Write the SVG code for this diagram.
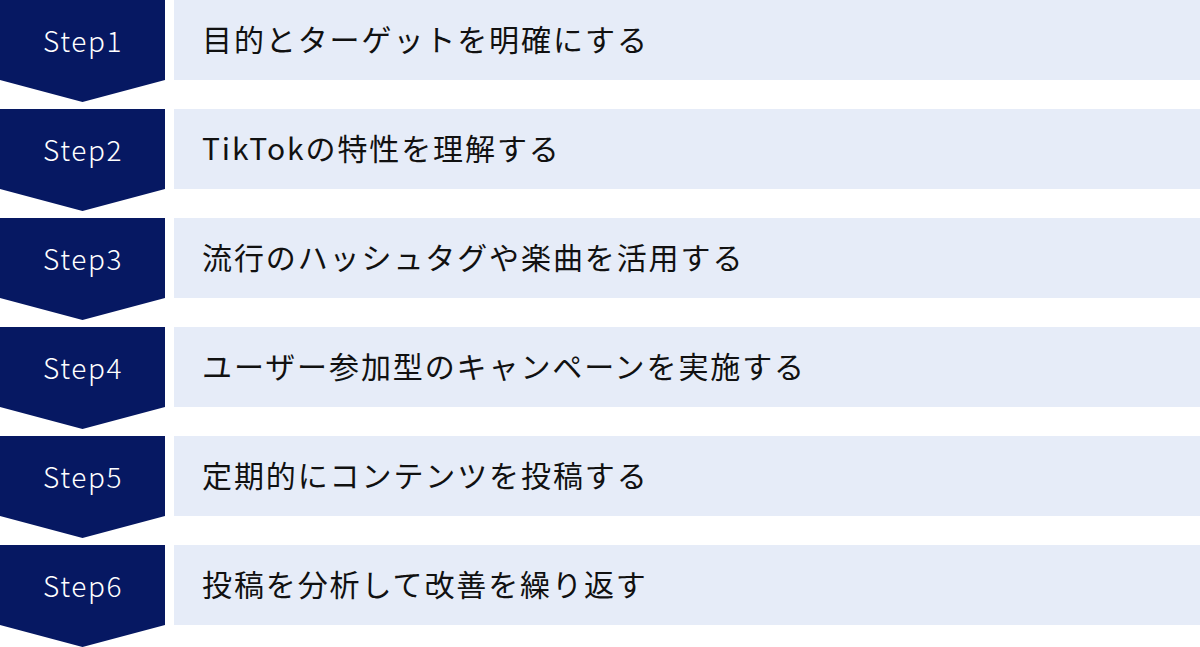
<svg xmlns="http://www.w3.org/2000/svg" width="1200" height="647" viewBox="0 0 1200 647">
<style>
.chev{fill:#061862}
.box{fill:#e6ecf8}
.step{font-family:"Noto Sans CJK JP","Noto Sans",sans-serif;font-size:28px;font-weight:300;fill:#ffffff;letter-spacing:1.6px;text-anchor:middle}
.lbl{font-family:"Noto Sans CJK JP","Noto Sans",sans-serif;font-size:30px;fill:#111111;letter-spacing:1.9px}
</style>
<defs>
<path id="chevron" d="M0 0H165V80L82.5 102L0 80Z"/>
</defs>
<g id="step1" transform="translate(0,0)">
<use href="#chevron" class="chev"/>
<rect class="box" x="174" y="0" width="1026" height="80"/>
<text class="step" x="83" y="51.5">Step1</text>
<text class="lbl" x="202" y="51">目的とターゲットを明確にする</text>
</g>
<g id="step2" transform="translate(0,109)">
<use href="#chevron" class="chev"/>
<rect class="box" x="174" y="0" width="1026" height="80"/>
<text class="step" x="83" y="51.5">Step2</text>
<text class="lbl" x="202" y="51">TikTokの特性を理解する</text>
</g>
<g id="step3" transform="translate(0,218)">
<use href="#chevron" class="chev"/>
<rect class="box" x="174" y="0" width="1026" height="80"/>
<text class="step" x="83" y="51.5">Step3</text>
<text class="lbl" x="202" y="51">流行のハッシュタグや楽曲を活用する</text>
</g>
<g id="step4" transform="translate(0,327)">
<use href="#chevron" class="chev"/>
<rect class="box" x="174" y="0" width="1026" height="80"/>
<text class="step" x="83" y="51.5">Step4</text>
<text class="lbl" x="202" y="51">ユーザー参加型のキャンペーンを実施する</text>
</g>
<g id="step5" transform="translate(0,436)">
<use href="#chevron" class="chev"/>
<rect class="box" x="174" y="0" width="1026" height="80"/>
<text class="step" x="83" y="51.5">Step5</text>
<text class="lbl" x="202" y="51">定期的にコンテンツを投稿する</text>
</g>
<g id="step6" transform="translate(0,545)">
<use href="#chevron" class="chev"/>
<rect class="box" x="174" y="0" width="1026" height="80"/>
<text class="step" x="83" y="51.5">Step6</text>
<text class="lbl" x="202" y="51">投稿を分析して改善を繰り返す</text>
</g>
<g id="connectors"/>
</svg>
